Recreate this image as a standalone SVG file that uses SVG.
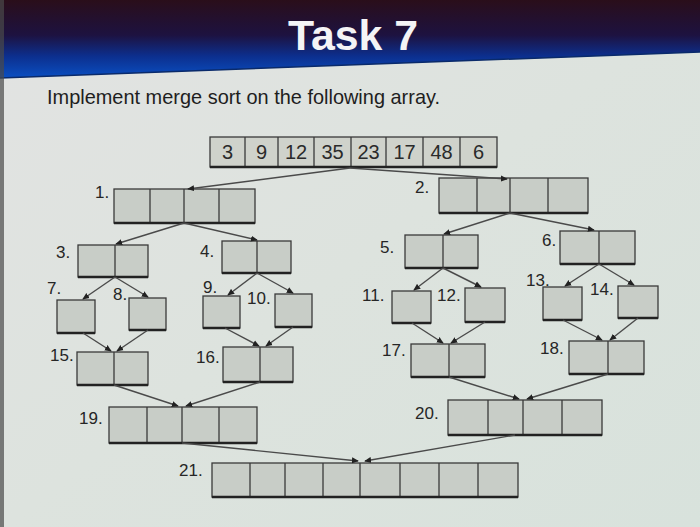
<svg xmlns="http://www.w3.org/2000/svg" width="700" height="527" viewBox="0 0 700 527">
<defs>
<linearGradient id="bar" x1="0" y1="0" x2="0" y2="1">
<stop offset="0" stop-color="#2a0e1a"/>
<stop offset="0.45" stop-color="#1d1240"/>
<stop offset="0.72" stop-color="#0c2f8e"/>
<stop offset="1" stop-color="#0a4fc2"/>
</linearGradient>
<linearGradient id="bg" x1="0" y1="0" x2="1" y2="1">
<stop offset="0" stop-color="#e2e3e2"/>
<stop offset="0.5" stop-color="#dde3de"/>
<stop offset="1" stop-color="#d8e2dc"/>
</linearGradient>
<marker id="ah" viewBox="0 0 8 8" refX="7" refY="4" markerWidth="7" markerHeight="7" markerUnits="userSpaceOnUse" orient="auto">
<path d="M0,0.5 L8,4 L0,7.5 Z" fill="#222"/>
</marker>
<style>
.cell{fill:#c8cdc7;stroke:#3a3a3a;stroke-width:1.3}
.top{fill:#cfd2cb;stroke:#3a3a3a;stroke-width:1.3}
.div{stroke:#3a3a3a;stroke-width:1.3}
.base{stroke:#222;stroke-width:2.4}
.lbl{font-family:"Liberation Sans",Arial,sans-serif;font-size:17px;fill:#262626}
.num{font-family:"Liberation Sans",Arial,sans-serif;font-size:20px;fill:#2a2a2a;text-anchor:middle}
.edge{fill:none;stroke:#4a4a4a;stroke-width:1.4;marker-end:url(#ah)}
</style>
</defs>
<rect width="700" height="527" fill="url(#bg)"/>
<polygon points="0,0 700,0 700,52 0,78" fill="url(#bar)"/>
<line x1="0" y1="78" x2="700" y2="52" stroke="#0a2a6a" stroke-width="1.5"/>
<rect x="0" y="0" width="4" height="527" fill="#4a4a4a" opacity="0.7"/>
<text x="288" y="50" font-family="Liberation Sans,Arial,sans-serif" font-weight="bold" font-size="42" fill="#f4f4f6" textLength="130" lengthAdjust="spacingAndGlyphs">Task 7</text>
<text x="47" y="104" font-family="Liberation Sans,Arial,sans-serif" font-size="21" fill="#1e1e1e" textLength="393" lengthAdjust="spacingAndGlyphs">Implement merge sort on the following array.</text>

<g id="array">
<rect class="top" x="210" y="137" width="287" height="30"/>
<path class="div" d="M245,137V167M278,137V167M314,137V167M351,137V167M386,137V167M423,137V167M460,137V167"/>
<line class="base" x1="210" y1="167" x2="497" y2="167"/>
<text class="num" x="227.5" y="159">3</text>
<text class="num" x="261.5" y="159">9</text>
<text class="num" x="296" y="159">12</text>
<text class="num" x="332.5" y="159">35</text>
<text class="num" x="368.5" y="159">23</text>
<text class="num" x="404.5" y="159">17</text>
<text class="num" x="441.5" y="159">48</text>
<text class="num" x="478.5" y="159">6</text>
</g>

<g id="n1"><rect class="cell" x="114" y="189" width="141" height="34"/><path class="div" d="M150,189V223M184,189V223M219,189V223"/><line class="base" x1="114" y1="223" x2="255" y2="223"/><text class="lbl" x="95" y="198">1.</text></g>
<g id="n2"><rect class="cell" x="439" y="178" width="149" height="35"/><path class="div" d="M477,178V213M510,178V213M548,178V213"/><line class="base" x1="439" y1="213" x2="588" y2="213"/><text class="lbl" x="415" y="193">2.</text></g>
<g id="n3"><rect class="cell" x="78" y="245" width="70" height="32"/><path class="div" d="M115,245V277"/><line class="base" x1="78" y1="277" x2="148" y2="277"/><text class="lbl" x="56" y="258">3.</text></g>
<g id="n4"><rect class="cell" x="222" y="241" width="69" height="32"/><path class="div" d="M257,241V273"/><line class="base" x1="222" y1="273" x2="291" y2="273"/><text class="lbl" x="200" y="257">4.</text></g>
<g id="n5"><rect class="cell" x="405" y="235" width="73" height="33"/><path class="div" d="M443,235V268"/><line class="base" x1="405" y1="268" x2="478" y2="268"/><text class="lbl" x="380" y="253">5.</text></g>
<g id="n6"><rect class="cell" x="560" y="231" width="75" height="33"/><path class="div" d="M599,231V264"/><line class="base" x1="560" y1="264" x2="635" y2="264"/><text class="lbl" x="542" y="246">6.</text></g>
<g id="n7"><rect class="cell" x="57" y="300" width="38" height="33"/><line class="base" x1="57" y1="333" x2="95" y2="333"/><text class="lbl" x="47" y="294">7.</text></g>
<g id="n8"><rect class="cell" x="129" y="298" width="37" height="32"/><line class="base" x1="129" y1="330" x2="166" y2="330"/><text class="lbl" x="113" y="300">8.</text></g>
<g id="n9"><rect class="cell" x="203" y="296" width="37" height="32"/><line class="base" x1="203" y1="328" x2="240" y2="328"/><text class="lbl" x="203" y="293">9.</text></g>
<g id="n10"><rect class="cell" x="275" y="294" width="37" height="33"/><line class="base" x1="275" y1="327" x2="312" y2="327"/><text class="lbl" x="247" y="304">10.</text></g>
<g id="n11"><rect class="cell" x="392" y="291" width="39" height="32"/><line class="base" x1="392" y1="323" x2="431" y2="323"/><text class="lbl" x="362" y="301">11.</text></g>
<g id="n12"><rect class="cell" x="465" y="288" width="40" height="34"/><line class="base" x1="465" y1="322" x2="505" y2="322"/><text class="lbl" x="437" y="301">12.</text></g>
<g id="n13"><rect class="cell" x="543" y="287" width="39" height="33"/><line class="base" x1="543" y1="320" x2="582" y2="320"/><text class="lbl" x="526" y="286">13.</text></g>
<g id="n14"><rect class="cell" x="618" y="286" width="40" height="32"/><line class="base" x1="618" y1="318" x2="658" y2="318"/><text class="lbl" x="590" y="295">14.</text></g>
<g id="n15"><rect class="cell" x="77" y="352" width="71" height="33"/><path class="div" d="M114,352V385"/><line class="base" x1="77" y1="385" x2="148" y2="385"/><text class="lbl" x="50" y="361">15.</text></g>
<g id="n16"><rect class="cell" x="223" y="347" width="70" height="35"/><path class="div" d="M260,347V382"/><line class="base" x1="223" y1="382" x2="293" y2="382"/><text class="lbl" x="196" y="363">16.</text></g>
<g id="n17"><rect class="cell" x="411" y="344" width="74" height="33"/><path class="div" d="M449,344V377"/><line class="base" x1="411" y1="377" x2="485" y2="377"/><text class="lbl" x="382" y="356">17.</text></g>
<g id="n18"><rect class="cell" x="569" y="341" width="75" height="33"/><path class="div" d="M608,341V374"/><line class="base" x1="569" y1="374" x2="644" y2="374"/><text class="lbl" x="540" y="354">18.</text></g>
<g id="n19"><rect class="cell" x="109" y="407" width="148" height="36"/><path class="div" d="M147,407V443M182,407V443M219,407V443"/><line class="base" x1="109" y1="443" x2="257" y2="443"/><text class="lbl" x="79" y="424">19.</text></g>
<g id="n20"><rect class="cell" x="448" y="400" width="154" height="35"/><path class="div" d="M488,400V435M523,400V435M562,400V435"/><line class="base" x1="448" y1="435" x2="602" y2="435"/><text class="lbl" x="415" y="419">20.</text></g>
<g id="n21"><rect class="cell" x="212" y="463" width="306" height="34"/><path class="div" d="M250,463V497M285,463V497M323,463V497M360,463V497M400,463V497M439,463V497M478,463V497"/><line class="base" x1="212" y1="497" x2="518" y2="497"/><text class="lbl" x="179" y="476">21.</text></g>

<g id="connectors">
<line class="edge" x1="350" y1="168" x2="188" y2="189"/>
<line class="edge" x1="350" y1="168" x2="507" y2="179"/>
<line class="edge" x1="184" y1="223" x2="116" y2="244"/>
<line class="edge" x1="184" y1="223" x2="257" y2="240"/>
<line class="edge" x1="510" y1="213" x2="444" y2="234"/>
<line class="edge" x1="510" y1="213" x2="594" y2="230"/>
<line class="edge" x1="115" y1="277" x2="83" y2="299"/>
<line class="edge" x1="115" y1="277" x2="148" y2="297"/>
<line class="edge" x1="257" y1="273" x2="228" y2="295"/>
<line class="edge" x1="257" y1="273" x2="293" y2="293"/>
<line class="edge" x1="443" y1="268" x2="414" y2="290"/>
<line class="edge" x1="443" y1="268" x2="481" y2="287"/>
<line class="edge" x1="599" y1="264" x2="565" y2="286"/>
<line class="edge" x1="599" y1="264" x2="634" y2="285"/>
<line class="edge" x1="83" y1="333" x2="111" y2="351"/>
<line class="edge" x1="148" y1="330" x2="117" y2="351"/>
<line class="edge" x1="225" y1="328" x2="259" y2="346"/>
<line class="edge" x1="293" y1="327" x2="266" y2="346"/>
<line class="edge" x1="412" y1="323" x2="443" y2="343"/>
<line class="edge" x1="485" y1="322" x2="451" y2="343"/>
<line class="edge" x1="563" y1="320" x2="602" y2="340"/>
<line class="edge" x1="638" y1="318" x2="610" y2="340"/>
<line class="edge" x1="114" y1="385" x2="178" y2="406"/>
<line class="edge" x1="260" y1="382" x2="186" y2="406"/>
<line class="edge" x1="449" y1="377" x2="519" y2="399"/>
<line class="edge" x1="608" y1="374" x2="527" y2="399"/>
<line class="edge" x1="182" y1="443" x2="358" y2="461"/>
<line class="edge" x1="515" y1="435" x2="365" y2="461"/>
</g>
</svg>
